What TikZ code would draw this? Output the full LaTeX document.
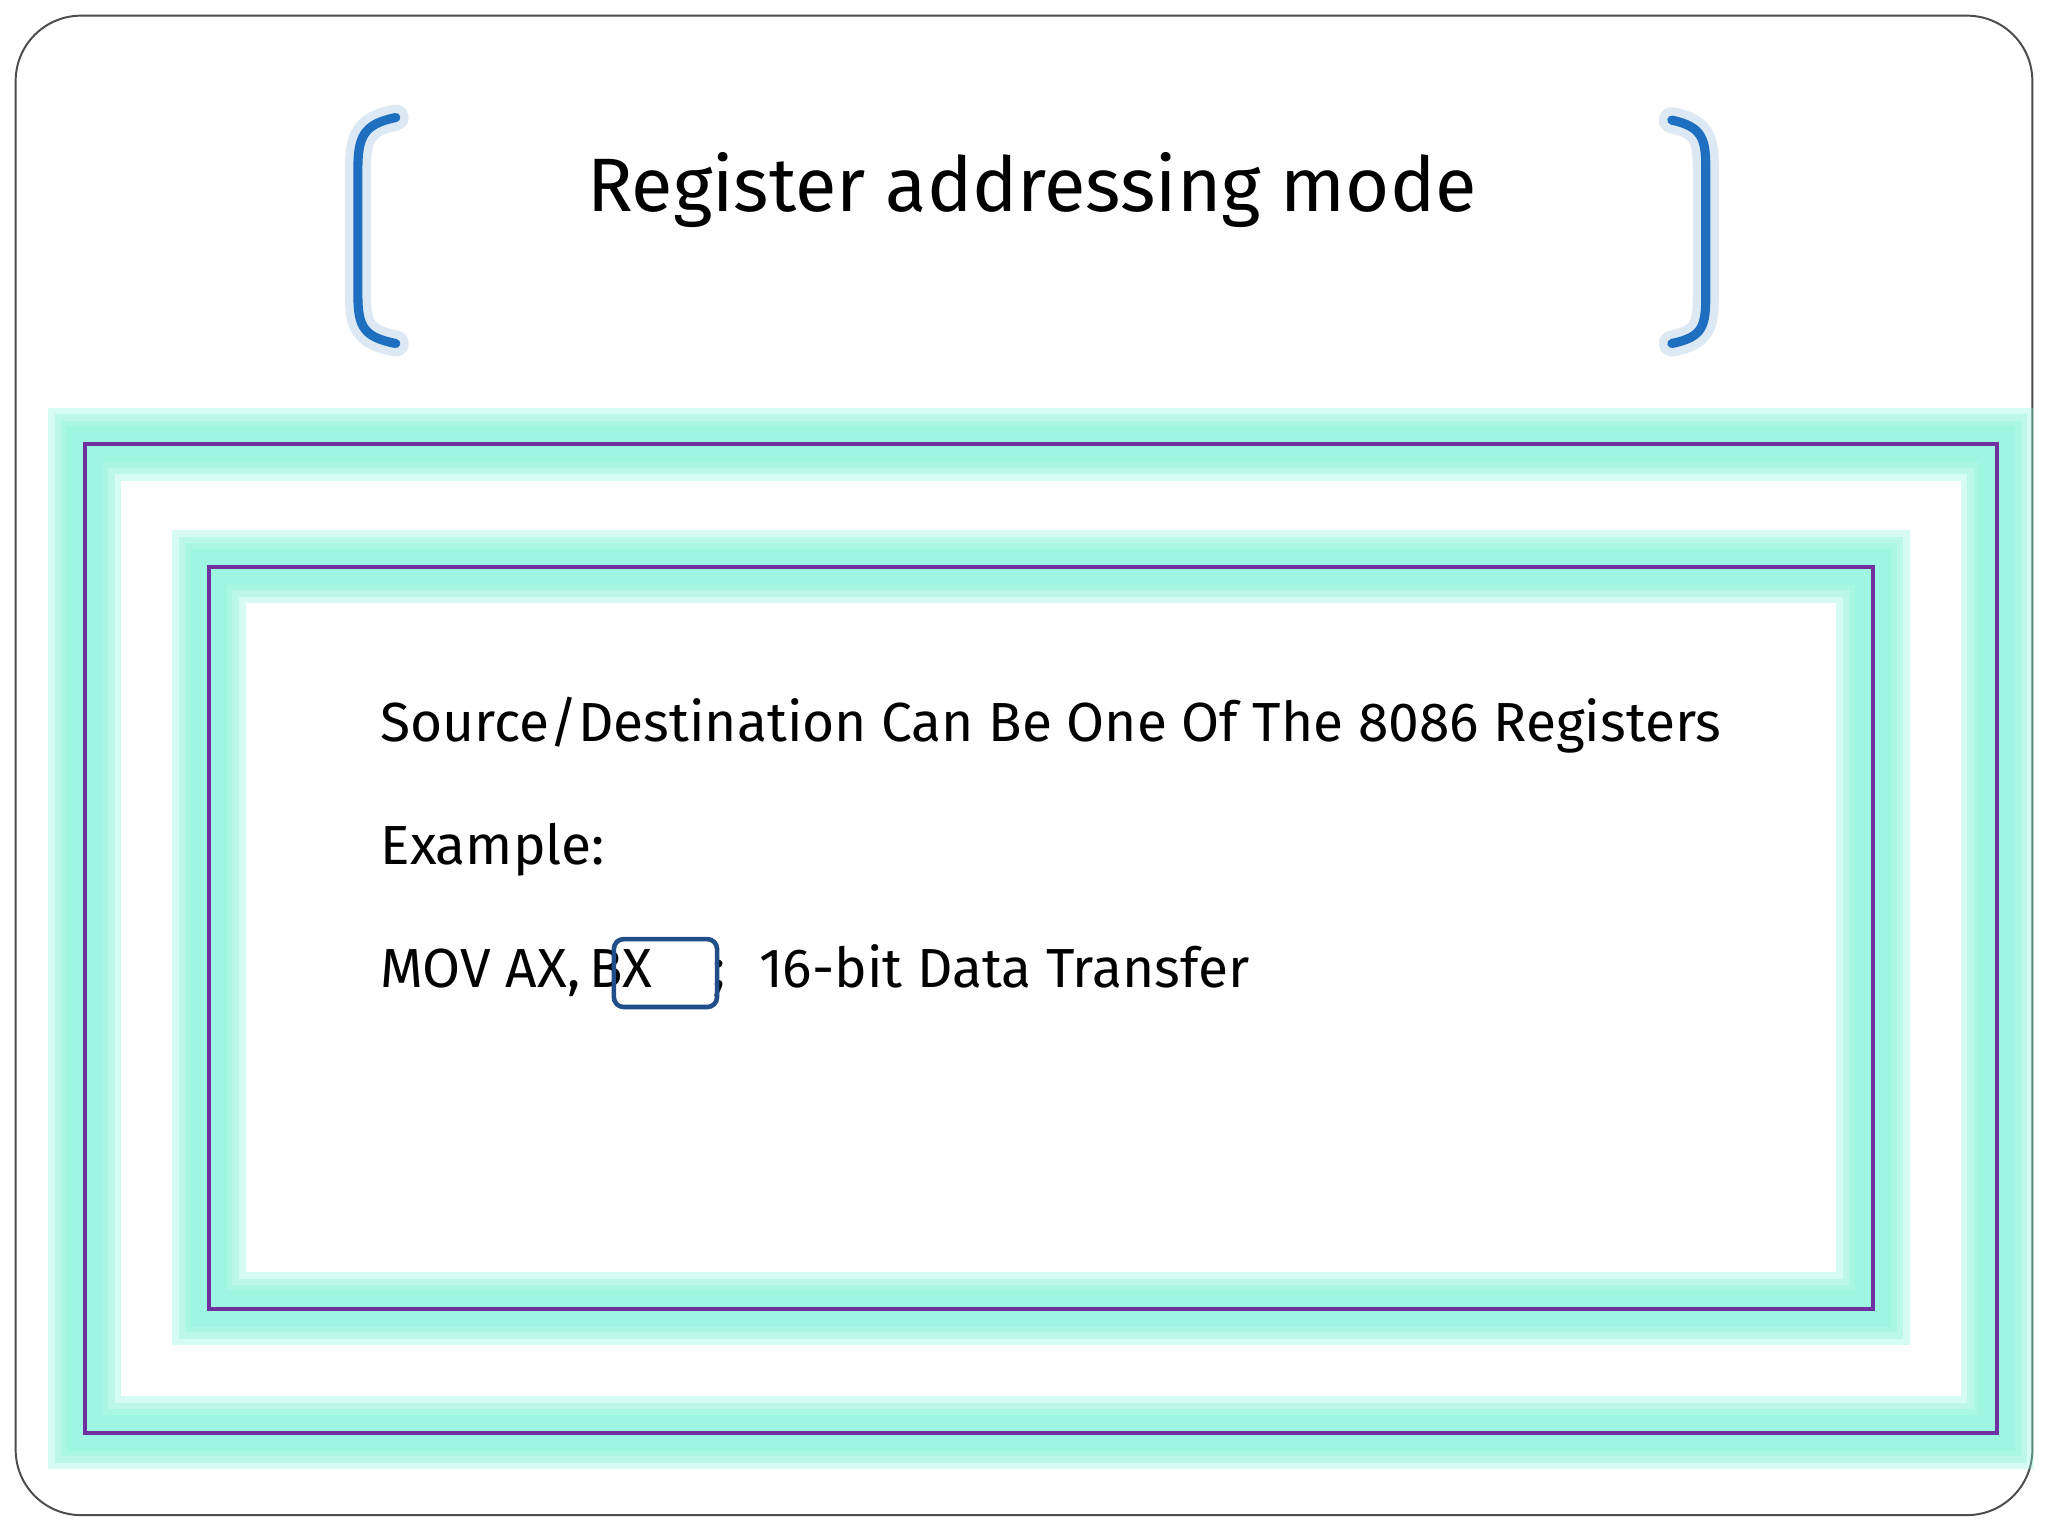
\documentclass[tikz,border=0pt]{standalone}
\usepackage{fontspec}
\setmainfont{Fira Sans}
\definecolor{glow}{HTML}{8AF5DC}
\definecolor{frm}{HTML}{7030A0}
\definecolor{brk}{HTML}{1E6FC0}
\definecolor{bxc}{HTML}{1F4E89}
\tikzset{
  glowline/.style={draw=glow, line width=#1, opacity=0.35},
  purp/.style={draw=frm, line width=0.06cm},
  txt/.style={anchor=base west, inner sep=0pt, font=\fontsize{24}{28}\selectfont},
  brkline/.style={draw=brk, line width=0.14cm, line cap=round, line join=round},
  brkglow/.style={draw=brk!30, line width=0.4cm, line cap=round, opacity=0.5}
}
\begin{document}
\begin{tikzpicture}[x=0.02cm,y=-0.02cm]
\useasboundingbox (0,0) rectangle (1568,1176);
\fill[white] (0,0) rectangle (1568,1176);
\draw[black!70, line width=0.03cm, rounded corners=1cm] (12,12) rectangle (1556,1160);
% brackets
\foreach \s in {brkglow,brkline}{
  \draw[\s] (303,90) .. controls (278,95) and (274,105) .. (274,130) -- (274,225) .. controls (274,250) and (278,258) .. (303,263);
  \draw[\s] (1280,92) .. controls (1304,97) and (1306,107) .. (1306,130) -- (1306,225) .. controls (1306,250) and (1304,258) .. (1280,263);
}
\node[anchor=base, inner sep=0pt, font=\fontsize{33}{38}\selectfont] (title) at (790,162) {Register addressing mode};
% glow frames
\foreach \w in {56,46,36,28}{
  \draw[glowline=\w*0.02cm] (65,340) rectangle (1529,1097);
  \draw[glowline=\w*0.02cm] (160,434) rectangle (1434,1002);
}
\draw[purp] (65,340) rectangle (1529,1097);
\draw[purp] (160,434) rectangle (1434,1002);
\node[txt] (l1) at (291,568) {Source/Destination Can Be One Of The 8086 Registers};
\node[txt] (l2) at (291,662) {Example:};
\node[txt] (l3) at (291,756) {MOV AX,\,BX\hspace{1.1em};\hspace{0.6em}16-bit Data Transfer};
\draw[bxc, line width=0.07cm, rounded corners=0.15cm] (470,719) rectangle (549,771);
\end{tikzpicture}
\end{document}
